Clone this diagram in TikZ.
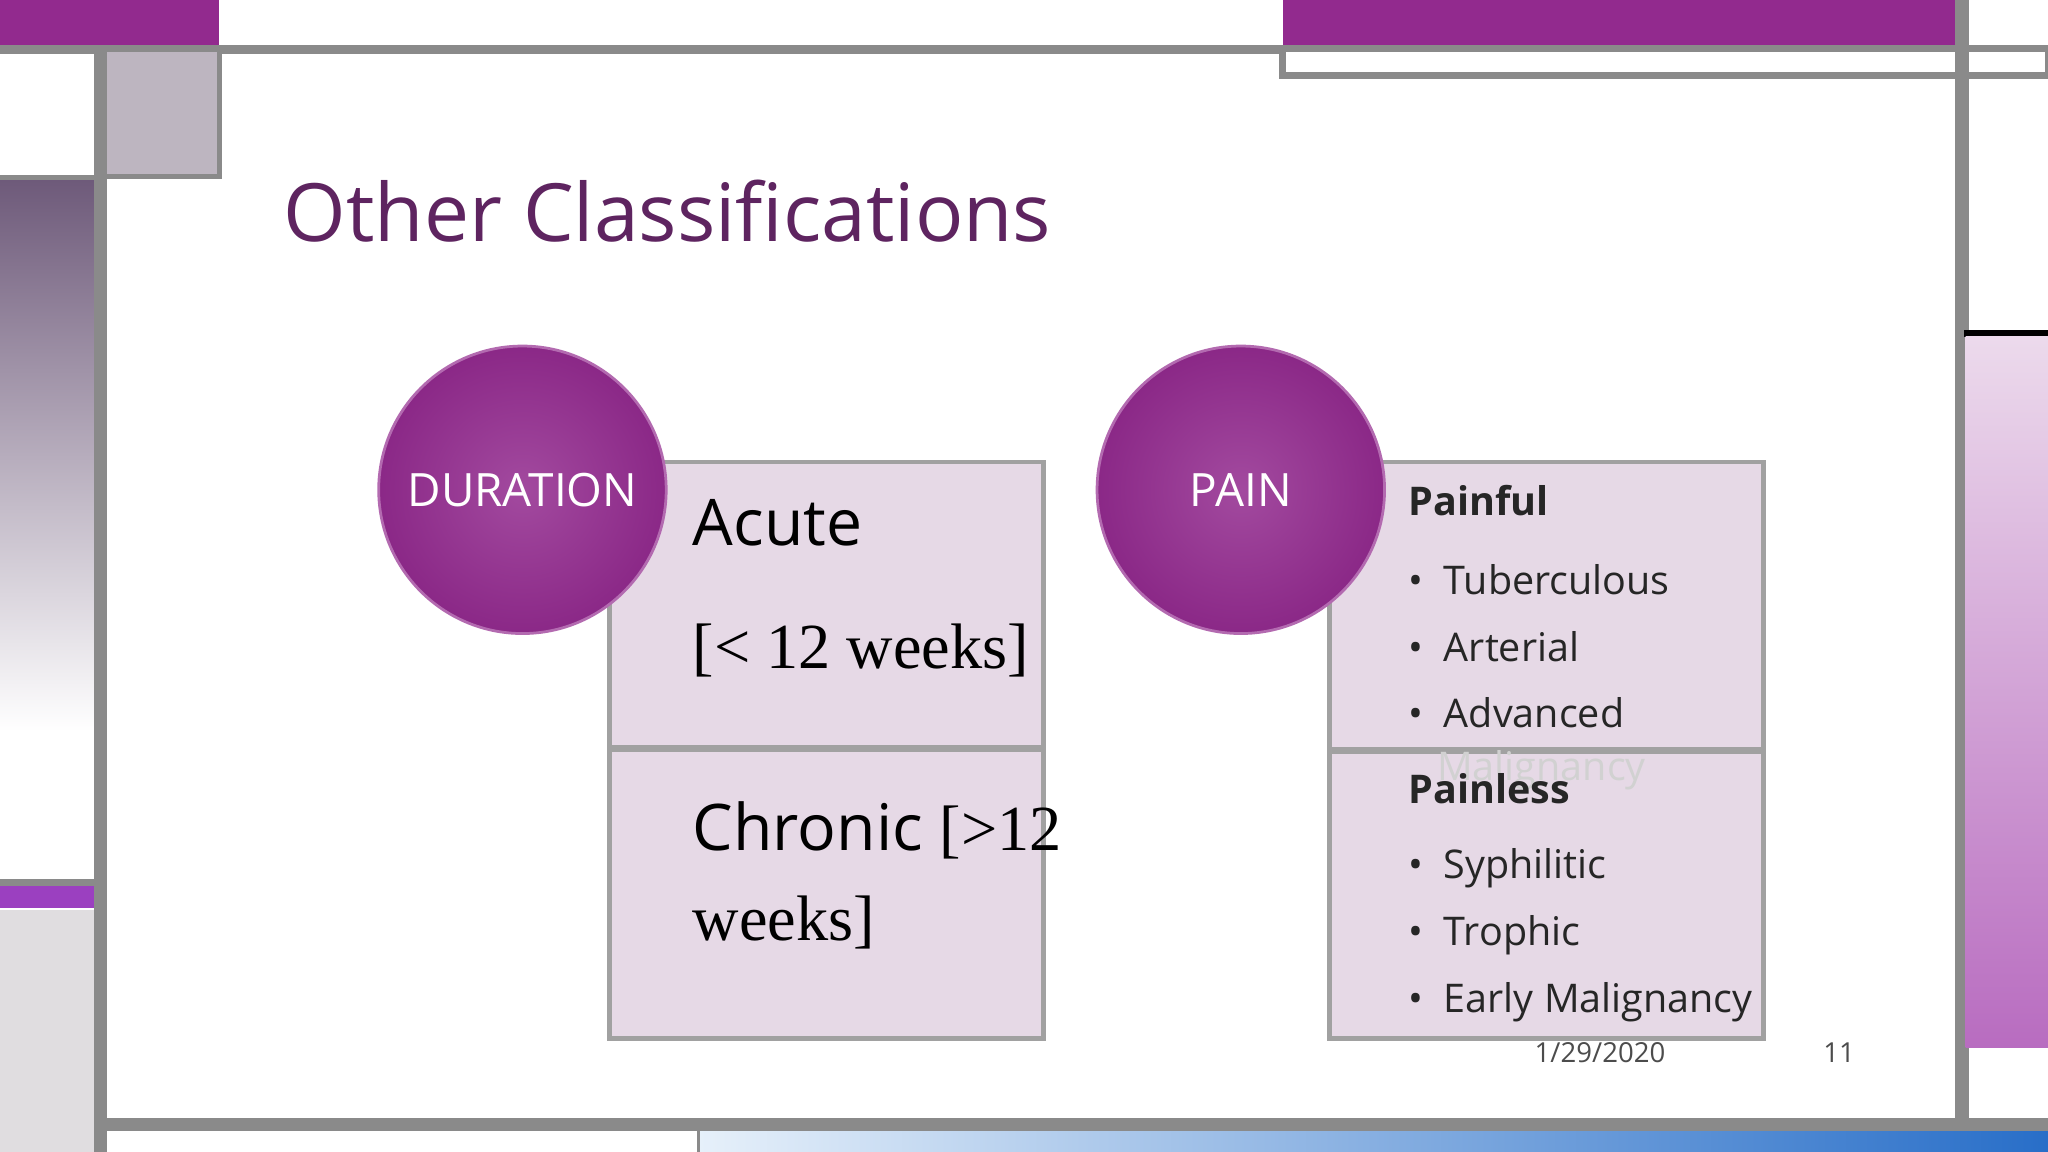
\documentclass[tikz,border=0pt]{standalone}
\usepackage{fontspec}
\setmainfont{Open Sans}
\newfontfamily\serifx{Liberation Serif}
\definecolor{pur}{HTML}{922A8E}
\definecolor{boxf}{HTML}{E6D9E6}
\definecolor{grl}{HTML}{8A8A8A}
\definecolor{ttl}{HTML}{5E2460}
\definecolor{grbox}{RGB}{189,181,192}
\definecolor{stripT}{RGB}{110,90,122}
\definecolor{violetbar}{RGB}{155,64,192}
\definecolor{lgray}{RGB}{224,221,224}
\definecolor{pinkT}{RGB}{236,218,236}
\definecolor{pinkB}{RGB}{184,108,192}
\definecolor{blueL}{RGB}{230,240,250}
\definecolor{blueR}{RGB}{40,110,200}
\tikzset{
 panel/.style={draw=grl!80,line width=1pt,fill=boxf,inner sep=0pt},
 disc/.style={circle,minimum size=2.2cm,inner sep=0pt,draw=pur!70!white,line width=0.6pt,
   inner color=pur!85!white,outer color=pur!95!black,text=white,font=\fontsize{10}{12}\selectfont},
 bul/.style={anchor=west,font=\fontsize{8.6}{10}\selectfont,text=black!85},
 hd/.style={anchor=west,font=\fontsize{8.6}{10}\selectfont\bfseries,text=black!85},
}
\begin{document}
\begin{tikzpicture}[x=0.01cm,y=-0.01cm]
\useasboundingbox (0,0) rectangle (1568,882);
\fill[white] (0,0) rectangle (1568,882);
% top bars
\fill[pur] (0,0) rectangle (168,36);
\fill[pur] (982,0) rectangle (1500,37);
\draw[grl,line width=1.5pt] (982,37) rectangle (1568,58);
\draw[grl,line width=1.8pt] (0,38) -- (982,38);
\fill[grbox] (82,40) rectangle (168,135);
\draw[grl,line width=1pt] (82,135) -- (168,135) -- (168,40);
% left strip
\shade[top color=stripT,bottom color=white] (0,138) rectangle (75,560);
\fill[violetbar] (0,678) rectangle (78,695);
\fill[lgray] (0,697) rectangle (75,882);
\draw[grl,line width=1pt] (0,136) -- (75,136);
\draw[grl,line width=1.5pt] (0,676) -- (75,676);
\draw[grl,line width=3pt] (77,40) -- (77,882);
% right strip
\draw[grl,line width=3pt] (1502,0) -- (1502,860);
\draw[black,line width=1.5pt] (1504,255) -- (1568,255);
\shade[top color=pinkT,bottom color=pinkB] (1505,258) rectangle (1568,802);
% bottom
\draw[grl,line width=3pt] (80,861) -- (1568,861);
\shade[left color=blueL,right color=blueR] (535,866) rectangle (1568,882);
\draw[grl,line width=0.6pt] (535,866) -- (535,882);
% title
\node[anchor=base west,text=ttl,font=\fontsize{17.5}{20}\selectfont] (title) at (205,185) {Other Classifications};
% left panels
\node[panel,minimum width=3.32cm,minimum height=2.18cm,anchor=north west] (acute) at (465,352) {};
\node[panel,minimum width=3.32cm,minimum height=2.21cm,anchor=north west] (chronic) at (465,572) {};
\node[disc] (dur) at (400,375) {DURATION};
\node[anchor=base west,font=\fontsize{14}{16}\selectfont] (t1) at (518,418) {Acute};
\node[anchor=base west,font=\fontsize{14}{16}\selectfont\serifx] (t2) at (518,512) {[< 12 weeks]};
\node[anchor=base west,font=\fontsize{14}{16}\selectfont] (t3) at (518,651) {Chronic {\serifx [>12}};
\node[anchor=base west,font=\fontsize{14}{16}\selectfont\serifx] (t4) at (518,720) {weeks]};
% right panels
\node[panel,minimum width=3.32cm,minimum height=2.2cm,anchor=north west] (pf) at (1016,352) {};
\node[panel,minimum width=3.32cm,minimum height=2.19cm,anchor=north west] (pl) at (1016,574) {};
\node[disc] (pain) at (950,375) {PAIN};
\node[hd] (h1) at (1066,383) {Painful};
\node[bul] (b1) at (1066,444) {•\ \ Tuberculous};
\node[bul] (b2) at (1066,495) {•\ \ Arterial};
\node[bul] (b3) at (1066,546) {•\ \ Advanced};
\node[bul,text=black!18] (b3b) at (1088,590) {Malignancy};
\node[hd] (h2) at (1066,604) {Painless};
\node[bul] (b4) at (1066,665) {•\ \ Syphilitic};
\node[bul] (b5) at (1066,716) {•\ \ Trophic};
\node[bul] (b6) at (1066,767) {•\ \ Early Malignancy};
\node[font=\fontsize{6}{7}\selectfont,text=black!70] (date) at (1225,806) {1/29/2020};
\node[font=\fontsize{6}{7}\selectfont,text=black!70] (pg) at (1408,806) {11};
\end{tikzpicture}
\end{document}
